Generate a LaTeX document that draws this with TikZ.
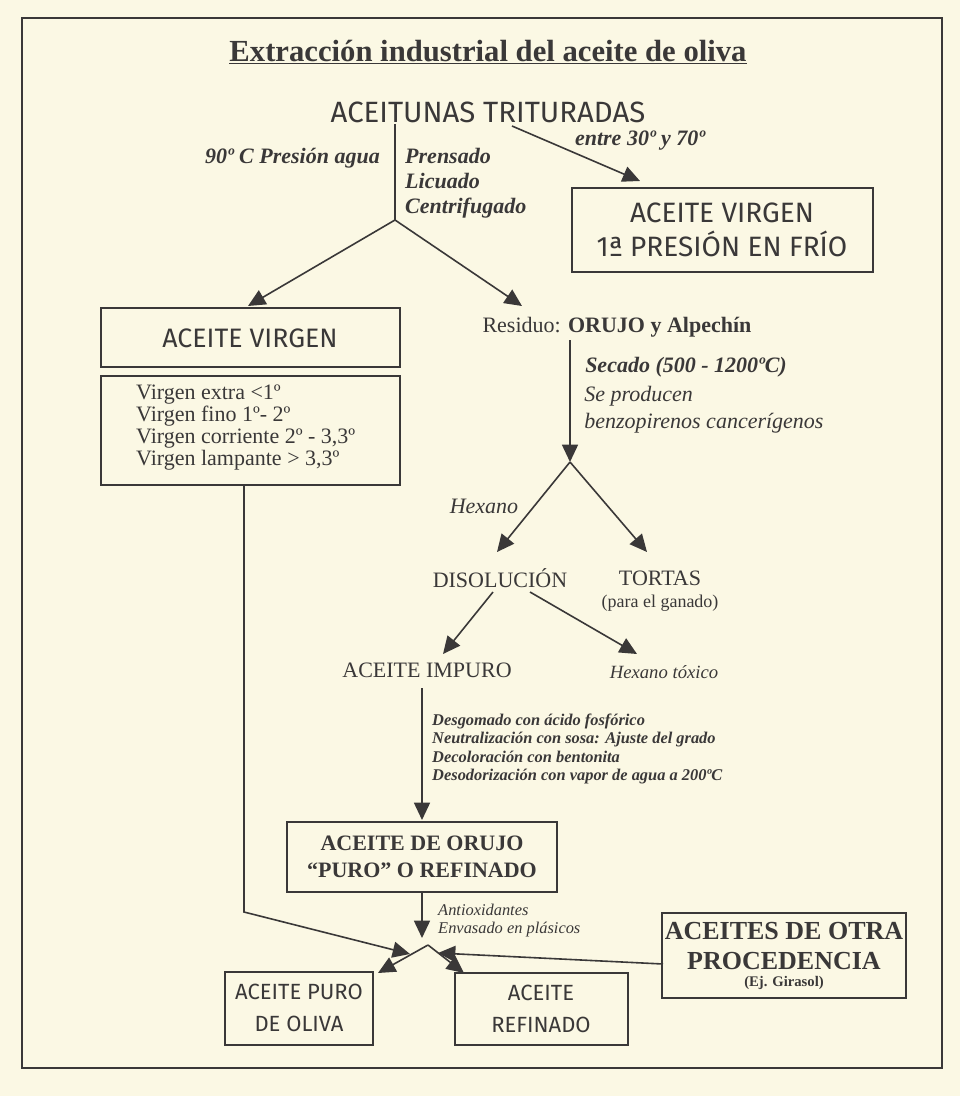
\documentclass[tikz,border=0pt]{standalone}
\usepackage{fontspec}
\setmainfont{Liberation Serif}
\newfontfamily\cmc{Fira Sans}
\usetikzlibrary{arrows.meta}
\definecolor{ink}{HTML}{3A3838}
\definecolor{paper}{HTML}{FBF8E4}
\begin{document}
\begin{tikzpicture}[x=0.75pt,y=-0.75pt,
  line width=1.2pt, draw=ink, text=ink,
  arr/.style={draw=ink,-{Triangle[length=13pt,width=12pt]}},
  ln/.style={draw=ink},
  bx/.style={draw=ink,line width=2pt},
  cs/.style={font=\cmc\fontsize{15}{19}\selectfont},
  it/.style={font=\itshape\fontsize{16.5}{19}\selectfont},
  bi/.style={font=\bfseries\itshape\fontsize{16.5}{19}\selectfont},
  rm/.style={font=\fontsize{16.5}{19}\selectfont},
  sm/.style={font=\bfseries\itshape\fontsize{12.3}{13.6}\selectfont,align=left,anchor=north west}]
\fill[paper] (0,0) rectangle (960,1096);
\useasboundingbox (0,0) rectangle (960,1096);
\draw[ink,line width=1.6pt] (22,18) rectangle (942,1068);
\node[font=\bfseries\fontsize{23}{26}\selectfont] (title) at (488,52) {\underline{Extracción industrial del aceite de oliva}};
\node[cs,font=\cmc\fontsize{22}{24}\selectfont] (trit) at (488,112) {ACEITUNAS TRITURADAS};
\coordinate (t0) at (395,124);
\coordinate (j1) at (395,220);
\draw[ln] (t0) -- (j1);
\node[bi,anchor=east] (l90) at (385,158) {90º C Presión agua};
\node[bi,anchor=north west,align=left,font=\bfseries\itshape\fontsize{16.5}{18.8}\selectfont] (pre) at (400,143) {Prensado\\Licuado\\Centrifugado};
\coordinate (t1) at (512,126);
\coordinate (v1top) at (640,181);
\draw[arr] (t1) -- (v1top);
\node[bi] (entre) at (640,141) {entre 30º y 70º};
\draw[bx] (572,188) rectangle (873,272);
\node[cs,align=center,font=\cmc\fontsize{21}{25.5}\selectfont] (v1) at (722,230) {ACEITE VIRGEN\\1ª PRESIÓN EN FRÍO};
\draw[bx] (101,308) rectangle (400,367);
\node[cs,font=\cmc\fontsize{20}{22}\selectfont] (av) at (250,338) {ACEITE VIRGEN};
\coordinate (avtop) at (248,306);
\draw[arr] (j1) -- (avtop);
\node[rm] (res) at (617,327) {Residuo: \textbf{ORUJO y Alpechín}};
\coordinate (restop) at (522,306);
\draw[arr] (j1) -- (restop);
\draw[bx] (101,376) rectangle (400,485);
\node[rm,anchor=north west,align=left,font=\fontsize{16.5}{16.5}\selectfont] (list) at (131,380) {Virgen extra <1º\\Virgen fino 1º- 2º\\Virgen corriente 2º - 3,3º\\Virgen lampante > 3,3º};
\coordinate (r0) at (570,340);
\coordinate (j2) at (570,462);
\draw[arr] (r0) -- (j2);
\node[bi,anchor=west] (sec) at (580,367) {Secado (500 - 1200ºC)};
\node[it,anchor=north west,align=left,font=\itshape\fontsize{16.5}{20}\selectfont] (se) at (579,381) {Se producen\\benzopirenos cancerígenos};
\node[rm] (dis) at (500,578) {DISOLUCIÓN};
\node[rm] (tor) at (660,578) {TORTAS};
\node[font=\fontsize{13.5}{15}\selectfont] (gan) at (660,603) {(para el ganado)};
\coordinate (distop) at (497,552);
\coordinate (tortop) at (647,552);
\draw[arr] (j2) -- (distop);
\draw[arr] (j2) -- (tortop);
\node[it] (hex) at (484,506) {Hexano};
\coordinate (d1) at (493,592);
\coordinate (d2) at (530,592);
\coordinate (imptop) at (443,654);
\coordinate (htop) at (637,654);
\draw[arr] (d1) -- (imptop);
\draw[arr] (d2) -- (htop);
\node[rm] (imp) at (427,670) {ACEITE IMPURO};
\node[it,font=\itshape\fontsize{14}{16}\selectfont] (htox) at (664,672) {Hexano tóxico};
\coordinate (i0) at (422,688);
\coordinate (orutop) at (422,820);
\draw[arr] (i0) -- (orutop);
\node[sm] (proc) at (427,709) {Desgomado con ácido fosfórico\\Neutralización con sosa: Ajuste del grado\\Decoloración con bentonita\\Desodorización con vapor de agua a 200ºC};
\draw[bx] (287,822) rectangle (557,892);
\node[font=\bfseries\fontsize{16.5}{20}\selectfont,align=center] (oru) at (422,857) {ACEITE DE ORUJO\\“PURO” O REFINADO};
\coordinate (o0) at (422,893);
\coordinate (j3) at (422,938);
\draw[arr] (o0) -- (j3);
\node[sm,font=\itshape\fontsize{12.3}{13.5}\selectfont] (anti) at (433,899) {Antioxidantes\\Envasado en plásicos};
\coordinate (peak) at (428,945);
\coordinate (pl) at (378,973);
\coordinate (pr) at (464,973);
\draw[arr] (peak) -- (pl);
\draw[arr] (peak) -- (pr);
\coordinate (v0) at (244,485);
\coordinate (v1) at (244,912);
\coordinate (vin) at (410,954);
\draw[arr] (v0) -- (v1) -- (vin);
\draw[bx] (662,913) rectangle (906,998);
\node[font=\bfseries\fontsize{19.5}{22}\selectfont,align=center] (otra) at (784,946) {ACEITES DE OTRA\\PROCEDENCIA};
\node[font=\bfseries\fontsize{11}{12}\selectfont] (gir) at (784,983) {(Ej. Girasol)};
\coordinate (o1) at (663,964);
\coordinate (oin) at (438,953);
\draw[arr] (o1) -- (oin);
\draw[bx] (225,972) rectangle (373,1045);
\node[cs,align=center,font=\cmc\fontsize{16.5}{24}\selectfont] (puro) at (299,1008) {ACEITE PURO\\DE OLIVA};
\draw[bx] (455,973) rectangle (628,1045);
\node[cs,align=center,font=\cmc\fontsize{16.5}{24}\selectfont] (ref) at (541,1009) {ACEITE\\REFINADO};
\end{tikzpicture}
\end{document}
